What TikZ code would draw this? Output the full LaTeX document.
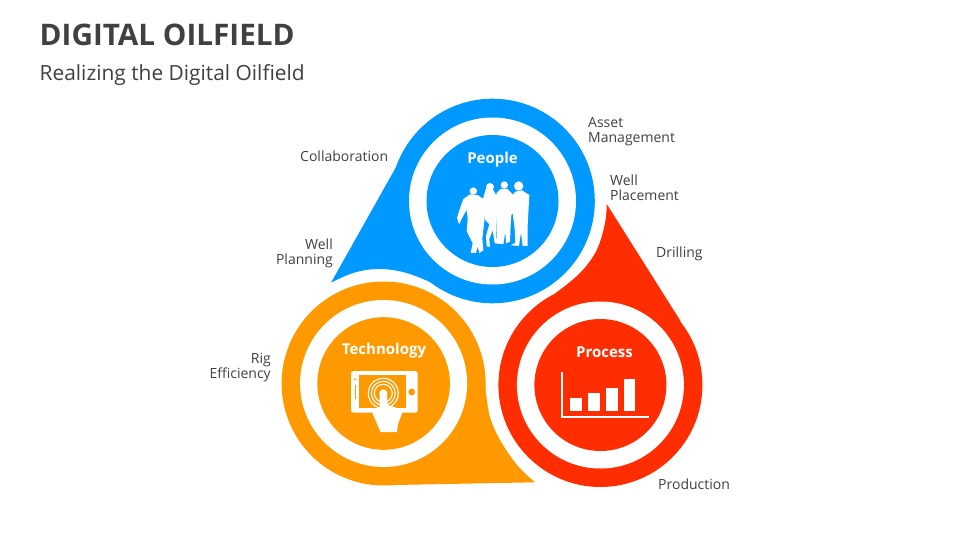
\documentclass[tikz,border=0pt]{standalone}
\usepackage{fontspec}
\setmainfont{Open Sans}
\definecolor{cblue}{HTML}{0099FF}
\definecolor{corange}{HTML}{FF9900}
\definecolor{cred}{HTML}{FF2D00}
\definecolor{ctext}{HTML}{404040}
\tikzset{
  lab/.style={text=ctext,font=\fontsize{14}{15}\selectfont,inner sep=0pt,align=left},
  labr/.style={lab,align=right},
  hd/.style={text=white,font=\fontsize{15}{16}\selectfont\bfseries,inner sep=0pt},
  ico/.style={fill=white,draw=none},
}
\begin{document}
\begin{tikzpicture}[x=1pt,y=-1pt]
\useasboundingbox (0,0) rectangle (960,540);
\fill[white] (0,0) rectangle (960,540);
% blue
\fill[cblue] (492.5,201) circle[radius=102.3];
\fill[cblue] (331,282.7) -- (400,160) -- (492.5,201) -- (480,302)
  -- plot[smooth,tension=0.6] coordinates {(480,302)(460,297)(430,282)(403,272)(377,269)(353,273)(331,282.7)} -- cycle;
\fill[white] (492.5,201) circle[radius=83.5];
\fill[cblue] (492.5,201) circle[radius=66];
% orange
\fill[corange] (383.6,383.5) circle[radius=102];
\fill[corange] (535,482.3) -- (385,485.2) -- (383.6,383.5) -- (484,370)
  -- plot[smooth,tension=0.6] coordinates {(484,370)(486,393)(490,417)(500,440)(517,465)(535,482.3)} -- cycle;
\fill[white] (383.6,383.5) circle[radius=83.5];
\fill[corange] (383.6,383.5) circle[radius=66.3];
% red
\fill[cred] (600.4,385) circle[radius=102];
\fill[cred] (606.7,204) -- (680.5,321) -- (600.4,385) -- (540,303)
  -- plot[smooth,tension=0.6] coordinates {(540,303)(553,295)(580,273)(596.7,250)(605,223)(606.7,204)} -- cycle;
\fill[white] (600.4,385) circle[radius=83.5];
\fill[cred] (600.4,385) circle[radius=66];
% title
\node[anchor=base west,text=ctext,inner sep=0pt,font=\fontsize{29.7}{32}\selectfont\bfseries] (title) at (39.5,46) {DIGITAL OILFIELD};
\node[anchor=base west,text=ctext,inner sep=0pt,font=\fontsize{20.9}{22}\selectfont] (sub) at (39.5,81) {Realizing the Digital Oilfield};
% circle headers
\node[hd] (people) at (492.5,160) {People};
\node[hd] (tech) at (384,351) {Technology};
\node[hd] (proc) at (604.5,352.5) {Process};
% labels
\node[lab,anchor=base west] (collab) at (300,161) {Collaboration};
\node[lab,anchor=north west] (asset) at (588,117) {Asset\\Management};
\node[lab,anchor=north west] (place) at (610,175) {Well\\Placement};
\node[lab,anchor=base west] (drill) at (656,257) {Drilling};
\node[lab,anchor=base west] (prod) at (658,489) {Production};
\node[labr,anchor=north east] (plan) at (333,239) {Well\\Planning};
\node[labr,anchor=north east] (rig) at (271,353) {Rig\\Efficiency};
% people silhouettes
\begin{scope}[shift={(450,175)},x=0.3333pt,y=-0.3333pt]
\fill[white] (70,48) circle[radius=11];
\fill[white] (60,58) -- (40,72) -- (30,100) -- (21,128) -- (27,148) -- (38,126) -- (50,104) -- (53,130) -- (50,168) -- (68,205) -- (62,234) -- (78,234) -- (83,214) -- (88,234) -- (100,226) -- (97,190) -- (104,130) -- (106,90) -- (98,70) -- (82,60) -- cycle;
\fill[white] (120,36) circle[radius=12];
\fill[white] (108,40) -- (102,60) -- (97,82) -- (103,98) -- (106,136) -- (118,148) -- (108,182) -- (110,214) -- (120,216) -- (118,192) -- (128,165) -- (134,205) -- (150,206) -- (138,190) -- (140,135) -- (138,90) -- (138,60) -- (130,45) -- cycle;
\fill[white] (163,30) circle[radius=11];
\fill[white] (152,42) -- (140,54) -- (134,80) -- (138,108) -- (140,150) -- (140,188) -- (136,204) -- (160,208) -- (166,170) -- (168,205) -- (180,200) -- (182,150) -- (184,120) -- (192,110) -- (190,60) -- (172,42) -- cycle;
\fill[white] (206,33) circle[radius=14];
\fill[white] (196,50) -- (186,62) -- (188,115) -- (194,160) -- (196,203) -- (182,211) -- (207,213) -- (213,172) -- (218,213) -- (233,213) -- (233,150) -- (238,60) -- (216,46) -- cycle;
\end{scope}
% tablet
\fill[ico,rounded corners=2.5pt] (351,371) rectangle (417.7,412.7);
\fill[corange] (359,375) rectangle (405.7,408.3);
\fill[corange] (411.7,392) circle[radius=3.4];
\fill[corange] (355,379.3) circle[radius=1];
\fill[corange] (354.5,385) rectangle (355.5,399.3);
\begin{scope}
\clip (359,375) rectangle (405.7,408);
\draw[white,line width=1.1pt] (383.3,393.3) circle[radius=15];
\draw[white,line width=1.1pt] (383.3,393.3) circle[radius=12];
\draw[white,line width=1.1pt] (383.3,393.3) circle[radius=9];
\end{scope}
\fill[white] (383.3,393.3) circle[radius=4];
\fill[white] (379.5,393) -- (387,393) -- (387.5,405) -- (397,408) -- (402.5,412) -- (398,424) -- (397,432) -- (380.5,432) -- (372,412) -- (371,408) -- (379.5,408) -- cycle;
% chart
\fill[white] (561.4,372.3) rectangle (562.8,417.5);
\fill[white] (561.4,416) rectangle (649,417.5);
\fill[white] (570,398) rectangle (582,411);
\fill[white] (588,393) rectangle (600,411);
\fill[white] (606,388) rectangle (618,411);
\fill[white] (624,379) rectangle (635,411);
\end{tikzpicture}
\end{document}
